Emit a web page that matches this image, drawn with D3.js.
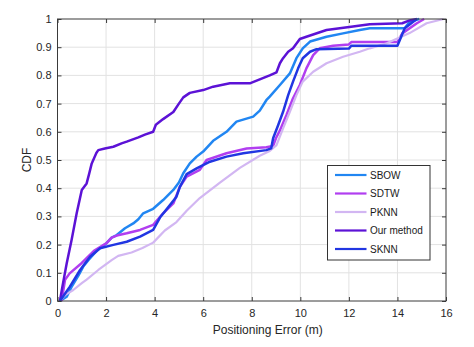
<!DOCTYPE html>
<html>
<head>
<meta charset="utf-8">
<script src="https://cdn.jsdelivr.net/npm/d3@7"></script>
<style>
  html, body { margin: 0; padding: 0; background: #fff; }
  svg { display: block; font-family: "Liberation Sans", Arial, Helvetica, sans-serif; }
</style>
</head>
<body>
<svg id="chart" width="474" height="347"></svg>
<script>
// ---- data ----
const seriesNames = ["SBOW", "SDTW", "PKNN", "Our method", "SKNN"];
const seriesColors = ["#2186f2", "#b13ef0", "#d2b6f2", "#5c12d6", "#2136e2"];
const xTicks = [0, 2, 4, 6, 8, 10, 12, 14, 16];
const yTicks = [0, 0.1, 0.2, 0.3, 0.4, 0.5, 0.6, 0.7, 0.8, 0.9, 1];

const sbow = [[0.1,0],[0.38,0.015],[0.58,0.05],[0.86,0.09],[1.06,0.122],[1.27,0.145],[1.61,0.178],[2.02,0.205],[2.23,0.225],[2.44,0.234],[2.78,0.258],[3.12,0.275],[3.33,0.29],[3.53,0.311],[3.94,0.327],[4.35,0.358],[4.77,0.394],[5.0,0.42],[5.18,0.453],[5.45,0.488],[5.73,0.512],[6.0,0.53],[6.41,0.568],[6.96,0.6],[7.37,0.636],[8.06,0.654],[8.33,0.675],[8.6,0.712],[8.74,0.725],[9.16,0.766],[9.57,0.807],[9.84,0.861],[10.1,0.896],[10.4,0.92],[11.08,0.937],[11.76,0.949],[12.45,0.961],[12.86,0.967],[14.3,0.967],[14.5,0.99],[14.9,1]];
const sdtw = [[0.17,0],[0.31,0.075],[0.5,0.098],[1.0,0.135],[1.5,0.178],[2.02,0.205],[2.23,0.225],[2.44,0.232],[2.85,0.24],[3.4,0.252],[3.94,0.27],[4.35,0.311],[4.77,0.346],[5.04,0.405],[5.32,0.441],[5.86,0.465],[6.14,0.5],[6.96,0.524],[7.79,0.541],[8.6,0.545],[8.88,0.55],[9.0,0.578],[9.16,0.605],[9.43,0.66],[9.7,0.719],[9.98,0.766],[10.25,0.825],[10.53,0.872],[10.8,0.896],[11.35,0.905],[12.0,0.91],[12.1,0.918],[14.0,0.918],[14.2,0.949],[14.8,0.985],[15.1,1]];
const pknn = [[0.1,0],[0.31,0.021],[0.65,0.039],[1.0,0.063],[1.2,0.076],[1.68,0.11],[2.23,0.145],[2.5,0.16],[3.05,0.172],[3.5,0.188],[3.94,0.207],[4.42,0.25],[4.9,0.28],[5.32,0.32],[5.86,0.365],[6.69,0.42],[7.51,0.472],[8.33,0.515],[8.74,0.532],[9.02,0.553],[9.29,0.612],[9.57,0.671],[9.84,0.73],[10.1,0.778],[10.53,0.813],[11.08,0.843],[11.76,0.866],[12.45,0.884],[12.86,0.896],[13.56,0.914],[14.5,0.95],[15.2,0.985],[15.9,1]];
const ours = [[0.1,0],[0.2,0.05],[0.38,0.134],[0.58,0.216],[0.79,0.311],[1.0,0.394],[1.2,0.417],[1.3,0.45],[1.41,0.488],[1.6,0.525],[1.68,0.535],[1.95,0.541],[2.3,0.547],[2.64,0.559],[2.85,0.565],[3.33,0.58],[3.6,0.59],[3.94,0.6],[4.05,0.625],[4.35,0.645],[4.77,0.67],[5.0,0.7],[5.18,0.722],[5.45,0.738],[6.0,0.748],[6.41,0.76],[7.1,0.772],[7.92,0.772],[8.33,0.786],[8.74,0.8],[9.02,0.811],[9.16,0.843],[9.29,0.861],[9.5,0.884],[9.7,0.896],[9.98,0.929],[10.25,0.937],[11.08,0.961],[12.17,0.973],[12.86,0.981],[14.2,0.985],[14.5,0.995],[14.8,1]];
const sknn = [[0.1,0],[0.3,0.025],[0.51,0.051],[0.93,0.11],[1.34,0.157],[1.75,0.187],[2.3,0.199],[2.85,0.21],[3.4,0.228],[3.94,0.252],[4.22,0.296],[4.63,0.34],[4.9,0.37],[5.04,0.405],[5.32,0.45],[5.73,0.47],[6.28,0.494],[6.96,0.512],[7.65,0.524],[8.6,0.535],[8.8,0.541],[8.88,0.577],[9.09,0.624],[9.29,0.671],[9.5,0.73],[9.7,0.778],[9.91,0.825],[10.1,0.861],[10.4,0.884],[10.67,0.893],[12.0,0.895],[12.1,0.905],[14.0,0.905],[14.3,0.967],[14.8,1]];
const seriesData = [sbow, sdtw, pknn, ours, sknn];

// ---- layout ----
const svg = d3.select("#chart");
const L = 57.5, R = 446, T = 19, B = 301;
const x = d3.scaleLinear().domain([0, 16]).range([L, R]);
const y = d3.scaleLinear().domain([0, 1]).range([B, T]);

// grid
const grid = svg.append("g");
grid.selectAll(".gx").data(xTicks.slice(1, -1)).enter().append("line")
  .attr("x1", d => x(d)).attr("x2", d => x(d)).attr("y1", T).attr("y2", B)
  .attr("stroke", "#e2e2e2").attr("stroke-width", 1);
grid.selectAll(".gy").data(yTicks.slice(1, -1)).enter().append("line")
  .attr("x1", L).attr("x2", R).attr("y1", d => y(d)).attr("y2", d => y(d))
  .attr("stroke", "#e2e2e2").attr("stroke-width", 1);

// lines
const line = d3.line().x(d => x(d[0])).y(d => y(d[1]));
const widths = [2.5, 2.5, 2.2, 2.5, 2.5];
svg.append("g").selectAll("path").data(seriesData).enter().append("path")
  .attr("d", d => line(d))
  .attr("fill", "none")
  .attr("stroke", (d, i) => seriesColors[i])
  .attr("stroke-width", (d, i) => widths[i])
  .attr("stroke-linejoin", "round");

// axes (MATLAB style: box, inward ticks)
const axCol = "#3a3a3a";
const xAxisB = d3.axisBottom(x).tickValues(xTicks).tickSize(-4).tickPadding(8).tickFormat(d3.format("d"));
const xAxisT = d3.axisTop(x).tickValues(xTicks).tickSize(-4).tickFormat("");
const yAxisL = d3.axisLeft(y).tickValues(yTicks).tickSize(-4).tickPadding(6).tickFormat(d => d === 0 || d === 1 ? d3.format("d")(d) : d3.format(".1f")(d));
const yAxisR = d3.axisRight(y).tickValues(yTicks).tickSize(-4).tickFormat("");

function styleAxis(g) {
  g.select(".domain").remove();
  g.selectAll(".tick line").attr("stroke", axCol).attr("stroke-width", 1);
  g.selectAll(".tick text").attr("fill", "#262626").style("font-size", "11px")
    .style("font-family", '"Liberation Sans", Arial, sans-serif');
}
svg.append("g").attr("transform", `translate(0,${B})`).call(xAxisB).call(styleAxis);
svg.append("g").attr("transform", `translate(0,${T})`).call(xAxisT).call(styleAxis);
svg.append("g").attr("transform", `translate(${L},0)`).call(yAxisL).call(styleAxis);
svg.append("g").attr("transform", `translate(${R},0)`).call(yAxisR).call(styleAxis);

svg.append("rect").attr("x", L).attr("y", T).attr("width", R - L).attr("height", B - T)
  .attr("fill", "none").attr("stroke", axCol).attr("stroke-width", 1);

// axis labels
svg.append("text").attr("x", (L + R) / 2 + 16).attr("y", 334).attr("text-anchor", "middle")
  .attr("fill", "#262626").style("font-size", "12px").text("Positioning Error (m)");
svg.append("text").attr("transform", `translate(31,${(T + B) / 2 + 0}) rotate(-90)`)
  .attr("text-anchor", "middle").attr("fill", "#262626").style("font-size", "12px").text("CDF");

// legend
const lg = svg.append("g");
lg.append("rect").attr("x", 327.5).attr("y", 165.5).attr("width", 102.5).attr("height", 94.5)
  .attr("fill", "#fff").attr("stroke", "#333").attr("stroke-width", 1);
const items = lg.selectAll(".li").data(seriesNames).enter().append("g")
  .attr("transform", (d, i) => `translate(0,${175 + i * 18.5})`);
items.append("line").attr("x1", 335).attr("x2", 366.5).attr("y1", 0).attr("y2", 0)
  .attr("stroke", (d, i) => seriesColors[i]).attr("stroke-width", 2.2);
items.append("text").attr("x", 370).attr("y", 3.8).attr("fill", "#1a1a1a")
  .style("font-size", "10px").text(d => d);
</script>
</body>
</html>
